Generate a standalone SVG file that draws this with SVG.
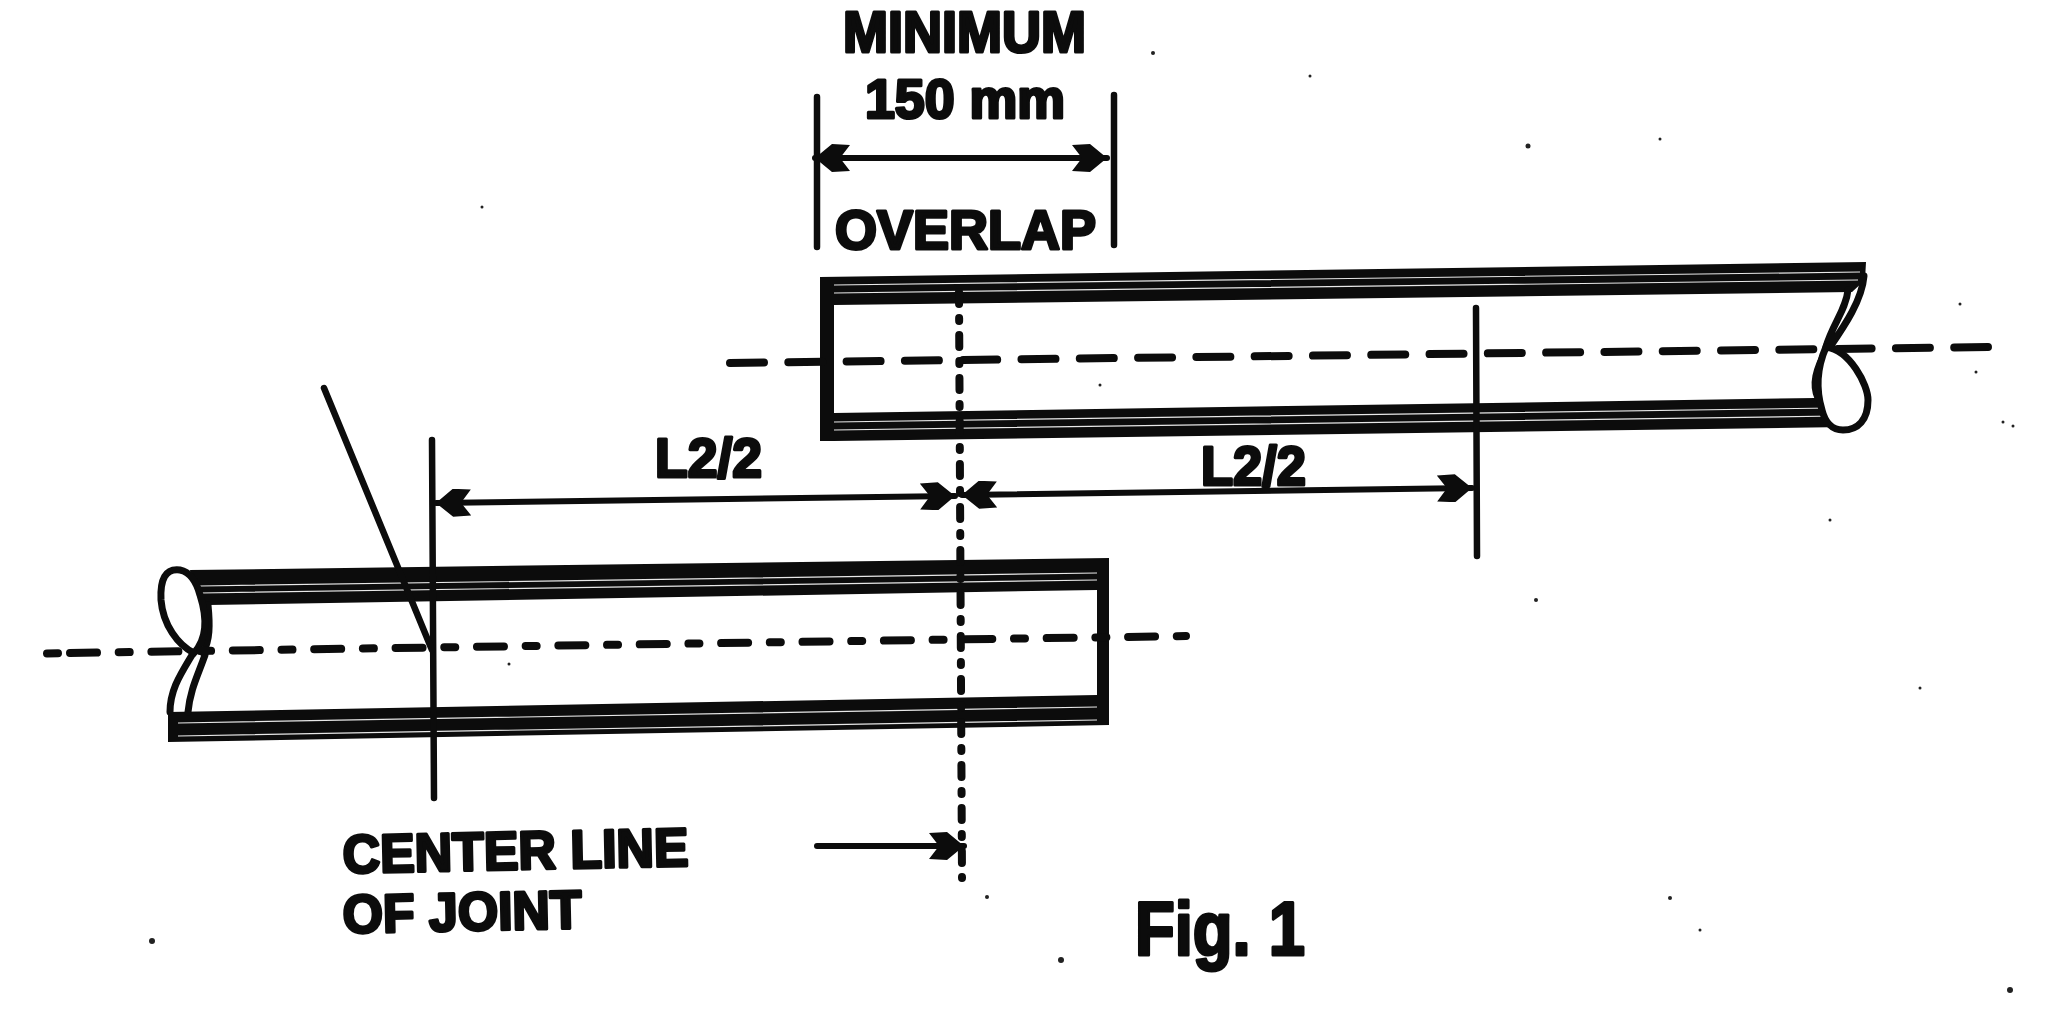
<svg xmlns="http://www.w3.org/2000/svg" width="2048" height="1032" viewBox="0 0 2048 1032">
<style>
.t{font-family:"Liberation Sans",Arial,sans-serif;font-weight:700;fill:#0c0c0c;stroke:#0c0c0c;stroke-width:3.2;stroke-linejoin:round}
.wall{fill:#0c0c0c}
.sl{fill:none;stroke:#e8e8e8;stroke-width:1.2}
.ln{fill:none;stroke:#0c0c0c;stroke-width:6.5;stroke-linecap:round}
.dim{fill:none;stroke:#0c0c0c;stroke-width:6;stroke-linecap:round}
.curve{fill:none;stroke:#0c0c0c;stroke-width:7;stroke-linecap:round}
.dash{fill:none;stroke:#0c0c0c;stroke-width:8;stroke-linecap:round}
.sp{fill:#222}
</style>
<defs>
<marker id="ah" viewBox="0 0 36 28" refX="35" refY="14" markerWidth="36" markerHeight="28" markerUnits="userSpaceOnUse" orient="auto-start-reverse">
<path d="M0 1L18 0L35 14L18 28L0 27L10 14Z" fill="#0c0c0c"/>
</marker>
</defs>
<rect width="2048" height="1032" fill="#fff"/>
<g id="specks">
<circle class="sp" cx="1528" cy="146" r="2.5"/><circle class="sp" cx="152" cy="941" r="3"/><circle class="sp" cx="1061" cy="960" r="3"/><circle class="sp" cx="2010" cy="990" r="3"/><circle class="sp" cx="1153" cy="53" r="2"/><circle class="sp" cx="1670" cy="898" r="2"/><circle class="sp" cx="987" cy="897" r="2"/><circle class="sp" cx="1536" cy="600" r="2"/><circle class="sp" cx="1660" cy="139" r="1.5"/><circle class="sp" cx="1310" cy="76" r="1.5"/><circle class="sp" cx="482" cy="207" r="1.5"/><circle class="sp" cx="1960" cy="304" r="1.5"/><circle class="sp" cx="1976" cy="372" r="1.5"/><circle class="sp" cx="2003" cy="422" r="1.5"/><circle class="sp" cx="2013" cy="426" r="1.5"/><circle class="sp" cx="509" cy="664" r="1.5"/><circle class="sp" cx="1920" cy="688" r="1.5"/><circle class="sp" cx="1830" cy="520" r="1.5"/><circle class="sp" cx="1700" cy="930" r="1.5"/><circle class="sp" cx="1100" cy="385" r="1.5"/>
</g>
<g id="upper-pipe">
<path class="wall" d="M820 277L1866 262L1865 280L1852 292L834 305L834 413L1815 398L1835 400L1845 427L834 441L820 441Z"/>
<path class="sl" d="M834 285L1860 272M834 293L1858 280M834 422L1832 408M834 430L1836 416"/>
<path class="curve" d="M1864 276C1862 300 1845 325 1830 347M1848 290C1846 310 1832 325 1826 347M1828 347C1815 370 1812 385 1818 398"/>
<path class="curve" d="M1826 347C1850 350 1868 385 1868 400C1868 420 1858 430 1843 430C1832 430 1825 422 1822 410C1816 390 1816 370 1826 347Z" style="fill:#fff"/>
</g>
<g id="lower-pipe">
<path class="wall" d="M190 570L1109 558L1109 725L168 742L168 712L1097 695L1097 590L208 605L195 600Z"/>
<path class="sl" d="M200 586L1097 573M200 593L1097 580M178 723L1097 707M178 736L1097 720"/>
<path class="curve" d="M192 655C180 675 170 690 170 712M205 655C198 675 190 690 188 712M208 605C210 625 210 640 203 653"/>
<path class="curve" d="M180 570C165 568 160 580 161 600C163 625 178 645 194 653C206 640 208 620 200 595C196 580 190 572 180 570Z" style="fill:#fff"/>
</g>
<g id="connectors">
<path class="dash" stroke-dasharray="34 24.3" d="M730 363L1988 347"/>
<path class="dash" stroke-dasharray="27 21.7 11 21.7" d="M47 653.5L58 653.3M70 653L1186 636"/>
<path class="dash" stroke-dasharray="12 14 3 14" d="M959 292L962 878"/>
<path class="ln" d="M817 97V247M1114 95V245"/>
<path class="ln" d="M432 440L434 798M1476 308L1477 556"/>
<path class="ln" d="M324 388L432 650"/>
<path class="dim" marker-start="url(#ah)" marker-end="url(#ah)" d="M815 158H1107"/>
<path class="dim" marker-start="url(#ah)" marker-end="url(#ah)" d="M436 503L955 496"/>
<path class="dim" marker-start="url(#ah)" marker-end="url(#ah)" d="M962 495L1472 488"/>
<path class="dim" marker-end="url(#ah)" d="M817 846H964"/>
</g>
<g id="labels">
<text class="t" x="843" y="52" font-size="58" textLength="243" lengthAdjust="spacingAndGlyphs">MINIMUM</text>
<text class="t" x="865" y="118" font-size="56" textLength="200" lengthAdjust="spacingAndGlyphs">150 mm</text>
<text class="t" x="835" y="249" font-size="56" textLength="261" lengthAdjust="spacingAndGlyphs">OVERLAP</text>
<text class="t" x="655" y="477" font-size="56" textLength="107" lengthAdjust="spacingAndGlyphs">L2/2</text>
<text class="t" x="1201" y="485" font-size="56" textLength="105" lengthAdjust="spacingAndGlyphs">L2/2</text>
<text class="t" transform="rotate(-1.2 343 873)" x="343" y="873" font-size="54" textLength="346" lengthAdjust="spacingAndGlyphs">CENTER LINE</text>
<text class="t" transform="rotate(-1.2 343 933)" x="343" y="933" font-size="54" textLength="239" lengthAdjust="spacingAndGlyphs">OF JOINT</text>
<text class="t" x="1135" y="955" font-size="76" textLength="170" lengthAdjust="spacingAndGlyphs">Fig. 1</text>
</g>
</svg>
